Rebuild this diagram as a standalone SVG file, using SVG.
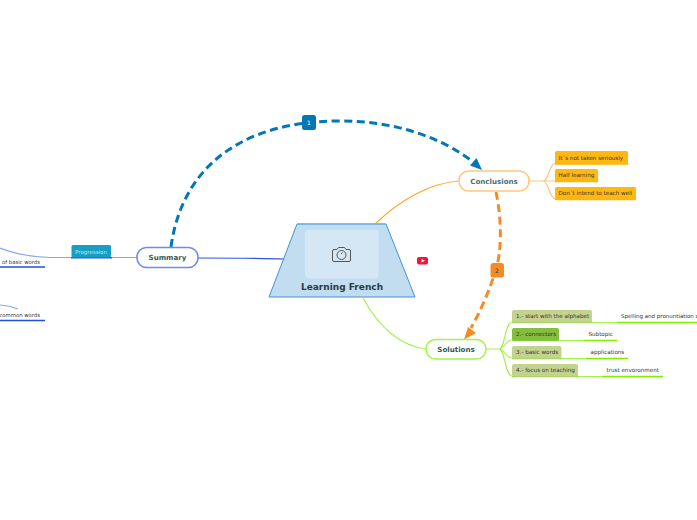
<svg xmlns="http://www.w3.org/2000/svg" width="697" height="520" viewBox="0 0 697 520">
<style>
text{font-family:"DejaVu Sans",sans-serif;font-size:6px;fill:#333}
.main{font-size:7.100px;font-weight:bold;fill:#2f5a55;text-anchor:middle}
.rel{fill:none;stroke-width:3;stroke-dasharray:8 4.500}
.thin{fill:none;stroke-width:1.200}
.pill{fill:#fff;stroke-width:1.600}
.ul{fill:none;stroke-width:1.500}
</style>
<rect width="697" height="520" fill="#fff"/>
<g id="connectors">
<path class="thin" style="stroke:#2f55e0" d="M285 259 C260 258 225 258 198 258"/>
<path class="thin" style="stroke:#8aa4f0" d="M137 257.500 H50 C35 257 15 254 0 248"/>
<path class="ul" style="stroke:#2f55e0" d="M71 257.700 H112"/>
<path class="ul" style="stroke:#1f4fe0" d="M0 267 H45"/>
<path class="ul" style="stroke:#1f4fe0" d="M0 320.500 H45"/>
<path class="thin" style="stroke:#8aa4f0" d="M0 305 C7 305.500 13 307 18 309"/>
<path class="thin" style="stroke:#ffa726" d="M375 224 C400 200 430 183 459 181"/>
<path class="thin" style="stroke:#a5f24a" d="M363 298 C375 320 395 345 426 349"/>
<path class="thin" style="stroke:#ffc680" d="M529 181 H543 C549 181 549 163 556 163 M543 181 C548 181 550 181 556 181 M543 181 C549 181 549 199 556 199"/>
<path class="ul" style="stroke:#ffb300" d="M555 164 H628.500 M555 181.500 H598 M555 199.500 H636"/>
<path class="thin" style="stroke:#a5f24a" d="M486 349 H499 C505 349 505 322 512 322 M499 349 C505 349 505 340 512 340 M499 349 C505 349 505 358 512 358 M499 349 C505 349 505 376 512 376"/>
<path class="ul" style="stroke:#8ddc3c" d="M512 322.500 H592 M512 340.500 H559 M512 358.500 H561 M512 376.500 H578"/>
<path class="ul" style="stroke:#7fee00" d="M617 322.500 H697 M584 340.500 H617 M586 358.500 H628 M602 376.500 H663"/>
<path class="thin" style="stroke:#a5f24a" d="M592 322.500 H617 M559 340.500 H584 M561 358.500 H586 M578 376.500 H602"/>
<path class="rel" stroke="#0277b5" d="M171 247 C181 172 236 121 340 121 C395 121 440 137 472 161"/>
<polygon fill="#0277b5" points="482,170 470,165.500 476.500,158"/>
<path class="rel" stroke="#f68b24" d="M496 192 C501 215 503 250 495 272 C489 292 480 312 471 328"/>
<polygon fill="#f68b24" points="464,339.500 468,327 476,333"/>
</g>
<g id="badge-1"><rect x="302" y="115" width="14" height="15" rx="2.500" fill="#0277b5"/><text x="309" y="125" text-anchor="middle" style="fill:#fff;font-size:6px">1</text></g>
<g id="badge-2"><rect x="490.500" y="263" width="13.500" height="14.500" rx="2.500" fill="#f68b24"/><text x="497" y="273" text-anchor="middle" style="font-size:6px">2</text></g>
<g id="center">
<polygon points="297,224 386,224 415,297 269,297" fill="#c2dcf0" stroke="none"/>
<path d="M297 224 H386 L415 297 H269 Z" fill="none" stroke="#3f93d8" stroke-width="1"/>
<path d="M297 224 H386" stroke="#7ab8ea" stroke-width="1.500"/>
<rect x="305" y="230" width="73.500" height="48.500" rx="3" fill="#d5e7f5"/>
<g fill="none" stroke="#555" stroke-width="1">
<path d="M332.500 251 a1.500 1.500 0 0 1 1.500 -1.500 h3 l1.500 -2 h6 l1.500 2 h3 a1.500 1.500 0 0 1 1.500 1.500 v9 a1.500 1.500 0 0 1 -1.500 1.500 h-15 a1.500 1.500 0 0 1 -1.500 -1.500 z"/>
<circle cx="341.500" cy="255" r="4.500"/><path d="M341 254 l1.500 -1.500"/>
</g>
<text x="342" y="290" text-anchor="middle" style="font-size:9px;font-weight:bold;fill:#2a3a40">Learning French</text>
</g>
<g id="youtube"><rect x="417" y="257" width="11" height="7.500" rx="2" fill="#f0153c"/><path d="M421.500 259 L425 260.700 L421.500 262.400 Z" fill="#fff"/></g>
<g id="summary"><rect class="pill" x="137" y="247.500" width="61" height="20" rx="9.500" style="stroke:#6a8df0"/><text class="main" x="167.500" y="260">Summary</text></g>
<g id="progression"><rect x="71.500" y="245" width="39.500" height="12.500" rx="1.500" fill="#159fc4"/><text x="91" y="253.500" text-anchor="middle" style="fill:#bfe6f2;font-size:5.500px">Progression</text></g>
<g id="basic-words"><text x="40" y="263.500" text-anchor="end" style="font-size:5.300px">of basic words</text></g>
<g id="common-words"><text x="40" y="317" text-anchor="end" style="font-size:5.300px">common words</text></g>
<g id="conclusions"><rect class="pill" x="459" y="171" width="70" height="20" rx="9.500" style="stroke:#ffc680"/><text class="main" x="494" y="183.500" style="fill:#4a7070">Conclusions</text></g>
<g id="c1"><rect x="555" y="151" width="73" height="13" rx="1.500" fill="#ffb711"/><text x="558.500" y="159.500" style="font-size:5.600px">It´s not taken seriously</text></g>
<g id="c2"><rect x="555" y="169" width="43" height="12.500" rx="1.500" fill="#ffb711"/><text x="558.500" y="177" style="font-size:5.600px">Half learning</text></g>
<g id="c3"><rect x="555" y="187" width="81" height="12.500" rx="1.500" fill="#ffb711"/><text x="558.500" y="195" style="font-size:5.600px">Don´t intend to teach well</text></g>
<g id="solutions"><rect class="pill" x="426" y="339.500" width="60" height="19.500" rx="9.500" style="stroke:#a5f24a"/><text class="main" x="456" y="352">Solutions</text></g>
<g id="s1"><rect x="512" y="310" width="80" height="12.500" rx="2" fill="#c3d28f"/><text x="516" y="318" style="font-size:5.600px">1.- start with the alphabet</text></g>
<g id="s2"><rect x="512" y="328" width="47" height="12.500" rx="2" fill="#85bd3c"/><text x="516" y="336" style="font-size:5.600px">2.- connectors</text></g>
<g id="s3"><rect x="512" y="346" width="49.500" height="12.500" rx="2" fill="#c3d28f"/><text x="516" y="354" style="font-size:5.600px">3.- basic words</text></g>
<g id="s4"><rect x="512" y="364" width="66" height="12.500" rx="2" fill="#c3d28f"/><text x="516" y="372" style="font-size:5.600px">4.- focus on teaching</text></g>
<g id="t1"><text x="621" y="318" style="font-size:5.500px">Spelling and pronuntiation of</text></g>
<g id="t2"><text x="588.500" y="336" style="font-size:5.600px">Subtopic</text></g>
<g id="t3"><text x="590.500" y="354" style="font-size:5.600px">applications</text></g>
<g id="t4"><text x="606.500" y="372" style="font-size:5.600px">trust envoronment</text></g>
</svg>
